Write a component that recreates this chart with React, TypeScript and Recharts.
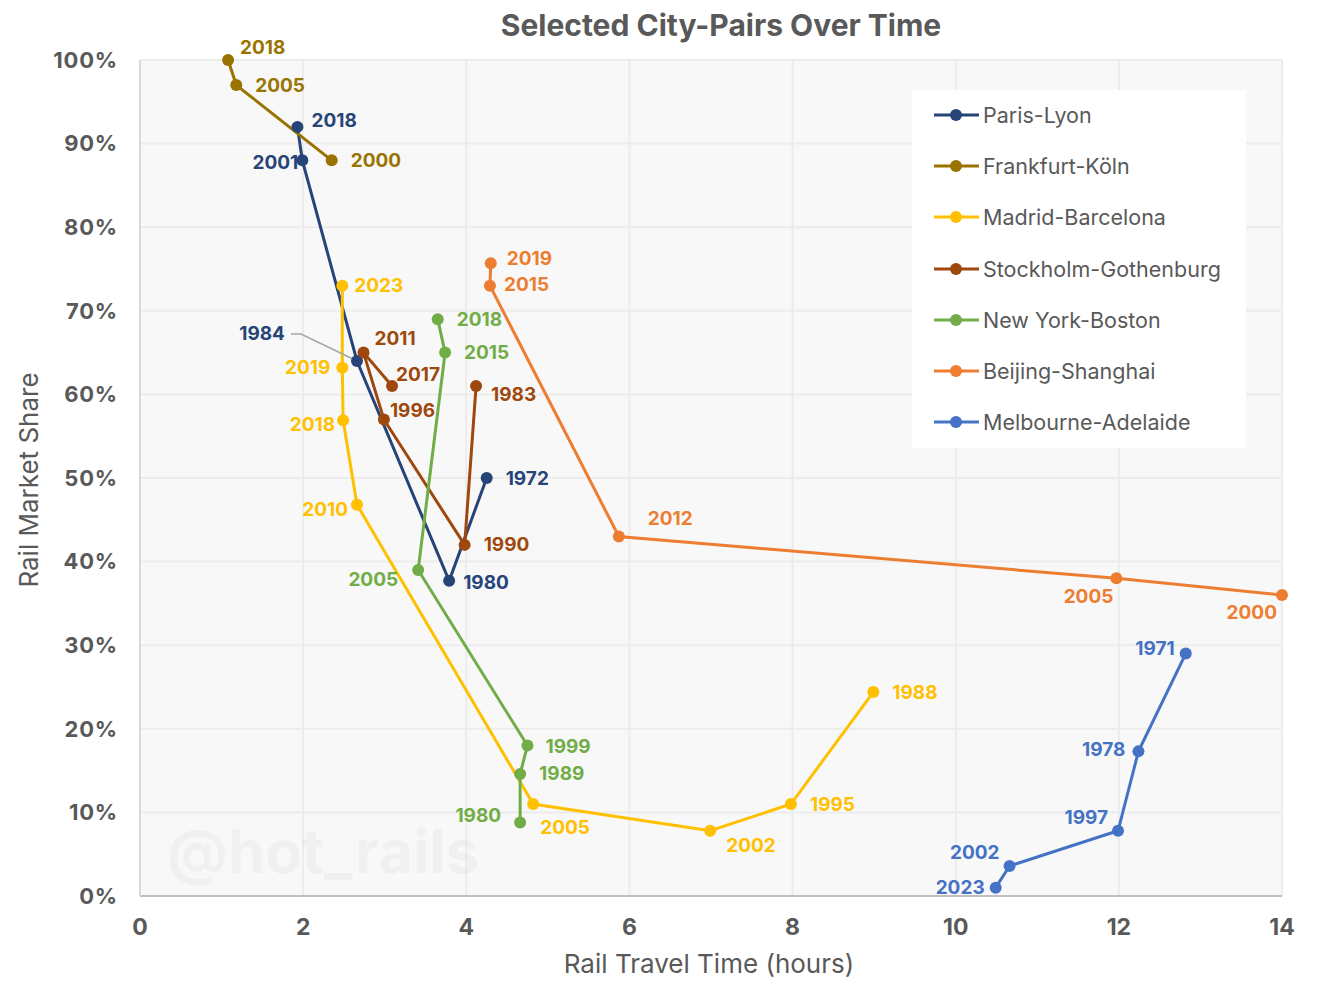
import { LineChart, Line, XAxis, YAxis, CartesianGrid } from 'recharts'

const parisLyon = [
  { year: 2018, hours: 1.93, share: 92 },
  { year: 2001, hours: 1.99, share: 88 },
  { year: 1984, hours: 2.66, share: 64 },
  { year: 1980, hours: 3.79, share: 37.7 },
  { year: 1972, hours: 4.25, share: 50 },
]

const frankfurtKoln = [
  { year: 2018, hours: 1.08, share: 100 },
  { year: 2005, hours: 1.18, share: 97 },
  { year: 2000, hours: 2.35, share: 88 },
]

const madridBarcelona = [
  { year: 2023, hours: 2.48, share: 73 },
  { year: 2019, hours: 2.48, share: 63.2 },
  { year: 2018, hours: 2.49, share: 56.9 },
  { year: 2010, hours: 2.66, share: 46.8 },
  { year: 2005, hours: 4.82, share: 11 },
  { year: 2002, hours: 6.99, share: 7.8 },
  { year: 1995, hours: 7.98, share: 11 },
  { year: 1988, hours: 8.99, share: 24.4 },
]

const stockholmGothenburg = [
  { year: 2017, hours: 3.09, share: 61 },
  { year: 2011, hours: 2.74, share: 65 },
  { year: 1996, hours: 2.99, share: 57 },
  { year: 1990, hours: 3.98, share: 42 },
  { year: 1983, hours: 4.12, share: 61 },
]

const newYorkBoston = [
  { year: 2018, hours: 3.65, share: 69 },
  { year: 2015, hours: 3.74, share: 65 },
  { year: 2005, hours: 3.41, share: 39 },
  { year: 1999, hours: 4.75, share: 18 },
  { year: 1989, hours: 4.66, share: 14.6 },
  { year: 1980, hours: 4.66, share: 8.8 },
]

const beijingShanghai = [
  { year: 2019, hours: 4.3, share: 75.7 },
  { year: 2015, hours: 4.29, share: 73 },
  { year: 2012, hours: 5.87, share: 43 },
  { year: 2005, hours: 11.97, share: 38 },
  { year: 2000, hours: 14, share: 36 },
]

const melbourneAdelaide = [
  { year: 2023, hours: 10.49, share: 1 },
  { year: 2002, hours: 10.66, share: 3.6 },
  { year: 1997, hours: 11.99, share: 7.8 },
  { year: 1978, hours: 12.24, share: 17.3 },
  { year: 1971, hours: 12.82, share: 29 },
]

const xTicks = [0, 2, 4, 6, 8, 10, 12, 14]
const yTicks = [0, 10, 20, 30, 40, 50, 60, 70, 80, 90, 100]

const series = [
  { name: 'Paris-Lyon', color: '#264478', data: parisLyon },
  { name: 'Frankfurt-Köln', color: '#997300', data: frankfurtKoln },
  { name: 'Madrid-Barcelona', color: '#FFC000', data: madridBarcelona },
  { name: 'Stockholm-Gothenburg', color: '#9E480E', data: stockholmGothenburg },
  { name: 'New York-Boston', color: '#70AD47', data: newYorkBoston },
  { name: 'Beijing-Shanghai', color: '#ED7D31', data: beijingShanghai },
  { name: 'Melbourne-Adelaide', color: '#4472C4', data: melbourneAdelaide },
]

// where each year label sits relative to its dot: [dx, dy, anchor]
const labelPlacement: Record<string, [number, number, string]> = {
  'Paris-Lyon 2018': [14, -6, 'start'],
  'Paris-Lyon 2001': [-4, 2, 'end'],
  'Paris-Lyon 1984': [-72, -27, 'end'],
  'Paris-Lyon 1980': [14, 2, 'start'],
  'Paris-Lyon 1972': [19, 0, 'start'],
  'Frankfurt-Köln 2018': [12, -13, 'start'],
  'Frankfurt-Köln 2005': [19, 0, 'start'],
  'Frankfurt-Köln 2000': [19, 0, 'start'],
  'Madrid-Barcelona 2023': [12, 0, 'start'],
  'Madrid-Barcelona 2019': [-12, 0, 'end'],
  'Madrid-Barcelona 2018': [-8, 4, 'end'],
  'Madrid-Barcelona 2010': [-9, 5, 'end'],
  'Madrid-Barcelona 2005': [7, 23, 'start'],
  'Madrid-Barcelona 2002': [16, 15, 'start'],
  'Madrid-Barcelona 1995': [19, 0, 'start'],
  'Madrid-Barcelona 1988': [19, 0, 'start'],
  'Stockholm-Gothenburg 2017': [4, -12, 'start'],
  'Stockholm-Gothenburg 2011': [11, -14, 'start'],
  'Stockholm-Gothenburg 1996': [6, -9, 'start'],
  'Stockholm-Gothenburg 1990': [19, 0, 'start'],
  'Stockholm-Gothenburg 1983': [15, 8, 'start'],
  'New York-Boston 2018': [19, 0, 'start'],
  'New York-Boston 2015': [19, 0, 'start'],
  'New York-Boston 2005': [-20, 10, 'end'],
  'New York-Boston 1999': [18, 1, 'start'],
  'New York-Boston 1989': [19, 0, 'start'],
  'New York-Boston 1980': [-19, -7, 'end'],
  'Beijing-Shanghai 2019': [16, -5, 'start'],
  'Beijing-Shanghai 2015': [14, -1, 'start'],
  'Beijing-Shanghai 2012': [29, -18, 'start'],
  'Beijing-Shanghai 2005': [-3, 18, 'end'],
  'Beijing-Shanghai 2000': [-5, 17, 'end'],
  'Melbourne-Adelaide 2023': [-11, 0, 'end'],
  'Melbourne-Adelaide 2002': [-10, -13, 'end'],
  'Melbourne-Adelaide 1997': [-10, -13, 'end'],
  'Melbourne-Adelaide 1978': [-13, -2, 'end'],
  'Melbourne-Adelaide 1971': [-11, -5, 'end'],
}

const FONT = 'Inter, "Noto Sans", sans-serif'
const GREY = '#595959'

const makeDot = (name: string, color: string) => (props: any) => {
  const { cx, cy, payload, index } = props
  const key = `${name} ${payload.year}`
  const [dx, dy, anchor] = labelPlacement[key] || [14, 0, 'start']
  return (
    <g key={`${name}-${index}`}>
      {key === 'Paris-Lyon 1984' && (
        <polyline
          points={`${cx - 66},${cy - 27} ${cx - 56},${cy - 27} ${cx - 4},${cy - 2}`}
          fill="none"
          stroke="#a6a6a6"
          strokeWidth={1.5}
        />
      )}
      <circle cx={cx} cy={cy} r={6} fill={color} />
      <text
        x={cx + dx}
        y={cy + dy}
        textAnchor={anchor as any}
        dominantBaseline="central"
        fill={color}
        fontFamily={FONT}
        fontWeight={700}
        fontSize={19}
      >
        {payload.year}
      </text>
    </g>
  )
}

export default function App() {
  return (
    <div style={{ position: 'absolute', left: 0, top: 0, width: 1325, height: 994, background: '#fff', fontFamily: FONT }}>
      <div style={{ position: 'absolute', left: 0, width: 1442, top: 7, textAlign: 'center', fontSize: 30, fontWeight: 700, color: GREY }}>
        Selected City-Pairs Over Time
      </div>
      <LineChart width={1325} height={994} margin={{ top: 60, right: 43, bottom: 58, left: 60 }}>
        <CartesianGrid fill="#f8f8f8" stroke="#ececec" strokeWidth={2} />
        <XAxis
          dataKey="hours"
          type="number"
          domain={[0, 14]}
          ticks={xTicks}
          height={40}
          tickLine={false}
          tickSize={0}
          tickMargin={23}
          axisLine={{ stroke: '#bfbfbf', strokeWidth: 2 }}
          tick={{ fill: GREY, fontSize: 23, fontWeight: 700, fontFamily: FONT }}
          allowDuplicatedCategory={false}
        />
        <YAxis
          dataKey="share"
          type="number"
          domain={[0, 100]}
          ticks={yTicks}
          width={80}
          tickLine={false}
          tickSize={0}
          tickMargin={22}
          axisLine={{ stroke: '#d9d9d9', strokeWidth: 2 }}
          tickFormatter={(v) => `${v}%`}
          tick={{ fill: GREY, fontSize: 22, fontWeight: 700, fontFamily: FONT, letterSpacing: 0.8 }}
        />
        {series.map((s) => (
          <Line
            key={s.name}
            name={s.name}
            data={s.data}
            dataKey="share"
            stroke={s.color}
            strokeWidth={3}
            dot={makeDot(s.name, s.color)}
            activeDot={false}
            isAnimationActive={false}
          />
        ))}
      </LineChart>
      <div style={{ position: 'absolute', left: 167, top: 815, fontSize: 60, fontWeight: 700, color: 'rgba(0,0,0,0.03)' }}>
        @hot_rails
      </div>
      <div style={{ position: 'absolute', left: 0, width: 1418, top: 948, textAlign: 'center', fontSize: 26, color: GREY }}>
        Rail Travel Time (hours)
      </div>
      <div
        style={{
          position: 'absolute',
          left: 28,
          top: 480,
          transform: 'translate(-50%, -50%) rotate(-90deg)',
          whiteSpace: 'nowrap',
          fontSize: 26,
          color: GREY,
        }}
      >
        Rail Market Share
      </div>
      <div style={{ position: 'absolute', left: 912, top: 90, width: 334, height: 358, background: '#fff' }}>
        {series.map((s, i) => (
          <div key={s.name} style={{ position: 'absolute', left: 22, top: 25 + i * 51.2 - 14, height: 28, display: 'flex', alignItems: 'center' }}>
            <svg width={49} height={28}>
              <line x1={0} y1={14} x2={45} y2={14} stroke={s.color} strokeWidth={3} />
              <circle cx={22} cy={14} r={6} fill={s.color} />
            </svg>
            <span style={{ fontSize: 21.5, color: GREY, whiteSpace: 'nowrap' }}>{s.name}</span>
          </div>
        ))}
      </div>
    </div>
  )
}
